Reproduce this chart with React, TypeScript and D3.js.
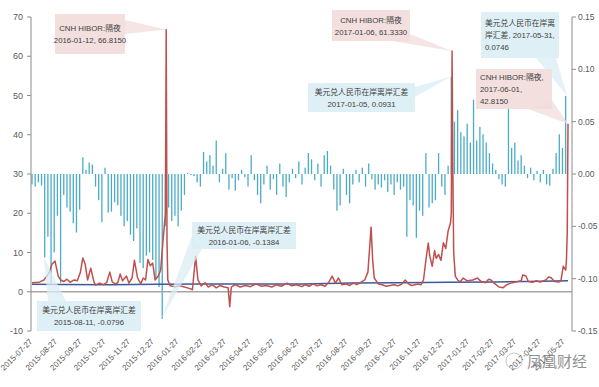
import React from "react";
import * as d3 from "d3";

const W = 599;
const H = 387;

// ---------- data ----------
const xTickLabels = [
  "2015-07-27", "2015-08-27", "2015-09-27", "2015-10-27", "2015-11-27", "2015-12-27",
  "2016-01-27", "2016-02-27", "2016-03-27", "2016-04-27", "2016-05-27", "2016-06-27",
  "2016-07-27", "2016-08-27", "2016-09-27", "2016-10-27", "2016-11-27", "2016-12-27",
  "2017-01-27", "2017-02-27", "2017-03-27", "2017-04-27", "2017-05-27",
];
const leftTicks = [-10, 0, 10, 20, 30, 40, 50, 60, 70];
const rightTicks = [-0.15, -0.1, -0.05, 0, 0.05, 0.1, 0.15];

// USD/CNY onshore-offshore spread (right axis), one bar every 4 days from start
const spreadStart = "2015-07-27";
const spreadStepDays = 4;
const spreadValues = [
  -0.01, -0.012, -0.008, -0.011, -0.0796, -0.06, -0.105, -0.075, -0.04, -0.104,
  -0.02, -0.032, -0.036, -0.047, -0.056, -0.034, 0.016, 0.004, 0.011, 0.009,
  -0.012, -0.025, -0.046, 0.006, -0.037, -0.036, -0.027, -0.03, -0.04, -0.05,
  -0.045, -0.058, -0.064, -0.052, -0.085, -0.09, -0.078, -0.075, -0.082, -0.1,
  -0.108, -0.1384, -0.05, -0.032, -0.045, -0.04, -0.05, -0.035, -0.02, 0.001,
  -0.001, -0.002, -0.008, -0.012, 0.021, 0.012, 0.018, 0.008, 0.032, -0.008,
  0.005, 0.02, -0.015, -0.004, -0.016, -0.006, 0.004, -0.003, -0.012, 0.018,
  -0.006, -0.02, -0.028, -0.01, 0.008, -0.015, -0.005, -0.02, 0.01, -0.012,
  -0.022, -0.008, 0.005, -0.004, 0.012, -0.01, 0.006, 0.02, 0.014, -0.006,
  0.01, -0.012, 0.018, 0.022, 0.008, -0.015, -0.035, -0.03, 0.005, -0.02,
  -0.028, -0.01, 0.004, -0.008, 0.006, -0.012, 0.01, -0.005, -0.015, -0.01,
  -0.013, -0.006, -0.017, -0.01, -0.02, -0.008, -0.015, -0.012, -0.06, -0.025,
  -0.03, -0.061, -0.035, -0.04, 0.02, -0.032, -0.028, -0.025, 0.02, -0.012,
  -0.02, 0.008, 0.0931, 0.05, 0.061, 0.04, 0.036, 0.048, 0.03, 0.071,
  0.032, 0.045, 0.038, 0.03, 0.02, 0.01, 0.004, -0.005, -0.01, -0.012,
  0.064, 0.025, 0.03, 0.013, 0.018, 0.008, -0.004, 0.006, -0.006, 0.003,
  -0.008, 0.004, -0.01, -0.011, 0.005, 0.02, 0.038, 0.025, 0.0746,
];

// CNH HIBOR overnight (left axis)
const hiborPoints: [string, number][] = [
  ["2015-07-27", 2.3], ["2015-08-03", 2.4], ["2015-08-06", 2.5], ["2015-08-11", 3.0],
  ["2015-08-14", 3.8], ["2015-08-18", 5.0], ["2015-08-21", 7.0], ["2015-08-25", 7.8],
  ["2015-08-29", 4.0], ["2015-09-01", 3.0], ["2015-09-05", 2.6], ["2015-09-09", 3.2],
  ["2015-09-13", 2.4], ["2015-09-18", 3.0], ["2015-09-22", 2.8], ["2015-09-26", 5.0],
  ["2015-09-29", 8.6], ["2015-10-02", 7.0], ["2015-10-05", 3.0], ["2015-10-09", 6.0],
  ["2015-10-13", 2.5], ["2015-10-15", 1.7], ["2015-10-20", 2.2], ["2015-10-25", 1.8],
  ["2015-10-29", 2.3], ["2015-11-02", 5.0], ["2015-11-05", 2.5], ["2015-11-09", 2.0],
  ["2015-11-12", 2.3], ["2015-11-15", 4.5], ["2015-11-18", 2.8], ["2015-11-23", 4.0],
  ["2015-11-26", 2.2], ["2015-11-30", 3.5], ["2015-12-03", 8.0], ["2015-12-07", 3.5],
  ["2015-12-11", 2.0], ["2015-12-14", 3.5], ["2015-12-17", 3.0], ["2015-12-20", 8.2],
  ["2015-12-23", 6.6], ["2015-12-26", 7.3], ["2015-12-29", 3.0], ["2016-01-02", 4.0],
  ["2016-01-05", 5.5], ["2016-01-08", 13.0], ["2016-01-11", 20.0], ["2016-01-12", 66.815],
  ["2016-01-13", 13.0], ["2016-01-14", 3.0], ["2016-01-17", 1.5], ["2016-01-23", 1.3],
  ["2016-01-29", 1.5], ["2016-02-04", 1.2], ["2016-02-11", 0.8], ["2016-02-14", 0.5],
  ["2016-02-18", 9.0], ["2016-02-21", 3.0], ["2016-02-25", 1.5], ["2016-03-01", 2.3],
  ["2016-03-05", 1.2], ["2016-03-10", 1.8], ["2016-03-15", 1.0], ["2016-03-20", 1.6],
  ["2016-03-25", 1.2], ["2016-03-30", 1.0], ["2016-04-01", -3.8], ["2016-04-03", 1.2],
  ["2016-04-08", 1.8], ["2016-04-14", 1.2], ["2016-04-21", 1.6], ["2016-04-27", 1.3],
  ["2016-05-04", 2.0], ["2016-05-11", 1.4], ["2016-05-17", 1.6], ["2016-05-24", 1.2],
  ["2016-05-30", 1.8], ["2016-06-05", 1.4], ["2016-06-12", 2.2], ["2016-06-18", 1.5],
  ["2016-06-24", 1.8], ["2016-07-01", 1.3], ["2016-07-05", 1.8], ["2016-07-10", 1.4],
  ["2016-07-15", 2.0], ["2016-07-20", 1.5], ["2016-07-25", 1.8], ["2016-07-30", 1.4],
  ["2016-08-04", 2.5], ["2016-08-08", 4.0], ["2016-08-12", 2.2], ["2016-08-16", 3.5],
  ["2016-08-20", 1.8], ["2016-08-25", 2.0], ["2016-08-30", 1.6], ["2016-09-04", 2.2],
  ["2016-09-08", 1.8], ["2016-09-13", 2.4], ["2016-09-18", 3.0], ["2016-09-22", 5.0],
  ["2016-09-26", 16.5], ["2016-09-28", 8.0], ["2016-09-30", 3.5], ["2016-10-05", 2.0],
  ["2016-10-10", 1.8], ["2016-10-15", 1.4], ["2016-10-20", 1.6], ["2016-10-25", 1.8],
  ["2016-10-30", 1.5], ["2016-11-04", 2.0], ["2016-11-08", 3.0], ["2016-11-12", 2.0],
  ["2016-11-16", 1.6], ["2016-11-20", 1.8], ["2016-11-24", 2.0], ["2016-11-28", 1.8],
  ["2016-12-01", 3.0], ["2016-12-04", 8.0], ["2016-12-07", 12.4], ["2016-12-09", 9.0],
  ["2016-12-12", 6.5], ["2016-12-15", 10.5], ["2016-12-17", 8.5], ["2016-12-20", 9.5],
  ["2016-12-23", 8.0], ["2016-12-26", 12.5], ["2016-12-29", 11.0], ["2017-01-01", 15.5],
  ["2017-01-04", 17.5], ["2017-01-05", 20.0], ["2017-01-06", 61.333], ["2017-01-07", 30.0],
  ["2017-01-08", 10.0], ["2017-01-10", 4.0], ["2017-01-13", 3.0], ["2017-01-16", 2.5],
  ["2017-01-20", 3.5], ["2017-01-25", 2.8], ["2017-02-01", 3.0], ["2017-02-07", 3.5],
  ["2017-02-11", 2.7], ["2017-02-17", 2.3], ["2017-02-21", 3.2], ["2017-02-24", 3.0],
  ["2017-02-28", 2.2], ["2017-03-06", 1.2], ["2017-03-11", 1.0], ["2017-03-16", 1.8],
  ["2017-03-21", 2.2], ["2017-03-27", 2.5], ["2017-04-03", 2.8], ["2017-04-05", 4.3],
  ["2017-04-09", 4.0], ["2017-04-12", 2.6], ["2017-04-17", 2.4], ["2017-04-22", 2.8],
  ["2017-04-27", 2.5], ["2017-05-04", 3.0], ["2017-05-08", 3.8], ["2017-05-11", 3.5],
  ["2017-05-15", 2.6], ["2017-05-20", 2.5], ["2017-05-23", 2.7], ["2017-05-26", 6.5],
  ["2017-05-29", 5.5], ["2017-05-30", 8.0], ["2017-05-31", 15.0], ["2017-06-01", 42.815],
];

// onshore overnight rate (left axis, dark blue line)
const onshorePoints: [string, number][] = [
  ["2015-07-27", 1.9], ["2015-09-01", 1.85], ["2015-11-01", 1.8], ["2016-01-01", 1.9],
  ["2016-03-01", 1.95], ["2016-05-01", 2.0], ["2016-07-01", 2.0], ["2016-09-01", 2.2],
  ["2016-11-01", 2.3], ["2017-01-01", 2.4], ["2017-03-01", 2.5], ["2017-05-01", 2.7],
  ["2017-06-01", 2.8],
];

// callouts
const calloutKinds = ["hibor", "hibor", "spread", "spread", "hibor", "spread", "spread"];
const calloutDates = ["2016-01-12", "2017-01-06", "2017-01-05", "2017-05-31", "2017-06-01", "2016-01-06", "2015-08-11"];
const calloutValues = [66.815, 61.333, 0.0931, 0.0746, 42.815, -0.1384, -0.0796];
const calloutTexts = [
  ["CNH HIBOR:隔夜", "2016-01-12, 66.8150"],
  ["CNH HIBOR:隔夜", "2017-01-06, 61.3330"],
  ["美元兑人民币在岸离岸汇差", "2017-01-05, 0.0931"],
  ["美元兑人民币在岸离", "岸汇差, 2017-05-31,", "0.0746"],
  ["CNH HIBOR:隔夜,", "2017-06-01,", "42.8150"],
  ["美元兑人民币在岸离岸汇差", "2016-01-06, -0.1384"],
  ["美元兑人民币在岸离岸汇差", "2015-08-11, -0.0796"],
];

// ---------- layout (not data) ----------
const calloutBoxes = [
  { x: 55, y: 14, w: 70, h: 40, align: "middle", base: [[125, 20], [125, 34]] },
  { x: 332, y: 10, w: 78, h: 31, align: "middle", base: [[392, 41], [410, 34]] },
  { x: 308, y: 83, w: 107, h: 29, align: "middle", base: [[415, 87], [415, 97]] },
  { x: 481, y: 12, w: 78, h: 46, align: "start", base: [[536, 58], [556, 58]] },
  { x: 476, y: 69, w: 76, h: 40, align: "start", base: [[528, 109], [552, 100]] },
  { x: 192, y: 222, w: 104, h: 27, align: "middle", base: [[192, 236], [202, 249]] },
  { x: 37, y: 301, w: 104, h: 30, align: "middle", base: [[48, 301], [66, 301]] },
];

const parse = d3.timeParse("%Y-%m-%d");

export default function App() {
  const x = d3
    .scaleTime()
    .domain([parse("2015-07-27")!, parse("2017-06-06")!])
    .range([32, 572]);
  const yL = d3.scaleLinear().domain([-10, 70]).range([331, 17]);
  const yR = d3.scaleLinear().domain([-0.15, 0.15]).range([331, 17]);

  const start = parse(spreadStart)!;
  const bars = spreadValues.map((v, i) => ({ d: d3.timeDay.offset(start, i * spreadStepDays), v }));

  const line = d3
    .line<[string, number]>()
    .x((p) => x(parse(p[0])!))
    .y((p) => yL(p[1]));

  const fontNum = "'Liberation Sans', Arial, 'Noto Sans CJK SC', sans-serif";
  const axisColor = "#8c8c8c";
  const labelColor = "#595959";

  return (
    <svg
      width={W}
      height={H}
      style={{ position: "absolute", left: 0, top: 0, background: "#fff" }}
      fontFamily={fontNum}
    >
      <rect x={0} y={0} width={W} height={H} fill="#fff" />

      {/* spread bars */}
      <g fill="#4bacc6">
        {bars.map((b, i) => {
          const y0 = yR(0);
          const y1 = yR(b.v);
          return (
            <rect
              key={i}
              x={x(b.d) - 0.65}
              width={1.3}
              y={Math.min(y0, y1)}
              height={Math.max(0.5, Math.abs(y1 - y0))}
            />
          );
        })}
      </g>

      {/* zero line of left axis */}
      <line x1={31} x2={572} y1={yL(0)} y2={yL(0)} stroke="#a6a6a6" strokeWidth={1.5} />

      {/* onshore rate line */}
      <path d={line(onshorePoints) || ""} fill="none" stroke="#3b5b9a" strokeWidth={1.5} />
      {/* HIBOR line */}
      <path d={line(hiborPoints) || ""} fill="none" stroke="#c0504d" strokeWidth={1.5} strokeLinejoin="round" />

      {/* left axis */}
      <line x1={31} x2={31} y1={yL(-10)} y2={yL(70)} stroke={axisColor} strokeWidth={1} />
      {leftTicks.map((t) => (
        <g key={t}>
          <line x1={27} x2={31} y1={yL(t)} y2={yL(t)} stroke={axisColor} />
          <text x={23} y={yL(t) + 3} textAnchor="end" fontSize={9} fill={labelColor}>
            {t}
          </text>
        </g>
      ))}

      {/* right axis */}
      <line x1={572} x2={572} y1={yR(-0.15)} y2={yR(0.15)} stroke={axisColor} strokeWidth={1} />
      {rightTicks.map((t) => (
        <g key={t}>
          <line x1={572} x2={576} y1={yR(t)} y2={yR(t)} stroke={axisColor} />
          <text x={578} y={yR(t) + 3} textAnchor="start" fontSize={8.5} fill={labelColor}>
            {d3.format(".2f")(t).replace("−", "-")}
          </text>
        </g>
      ))}

      {/* x labels */}
      {xTickLabels.map((s) => {
        const px = x(parse(s)!);
        return (
          <text
            key={s}
            transform={`translate(${px + 1},${342}) rotate(-45)`}
            textAnchor="end"
            fontSize={8}
            fill={labelColor}
          >
            {s}
          </text>
        );
      })}

      {/* callouts */}
      {calloutBoxes.map((b, i) => {
        const isH = calloutKinds[i] === "hibor";
        const fill = isH ? "#f2dcdb" : "#dbeef4";
        const px = x(parse(calloutDates[i])!);
        const py = isH ? yL(calloutValues[i]) : yR(calloutValues[i]);
        const lines = calloutTexts[i];
        const lh = 12;
        const total = lh * lines.length;
        const ty0 = b.y + (b.h - total) / 2 + lh / 2 + 3;
        const tx = b.align === "middle" ? b.x + b.w / 2 : b.x + 4;
        return (
          <g key={i}>
            <polygon
              points={`${b.base[0][0]},${b.base[0][1]} ${b.base[1][0]},${b.base[1][1]} ${px},${py}`}
              fill={fill}
              opacity={0.75}
            />
            <rect x={b.x} y={b.y} width={b.w} height={b.h} fill={fill} opacity={0.92} />
            {lines.map((l, k) => (
              <text
                key={k}
                x={tx}
                y={ty0 + k * lh}
                textAnchor={b.align}
                fontSize={7.8}
                fill="#404040"
              >
                {l}
              </text>
            ))}
          </g>
        );
      })}

      {/* watermark */}
      <g opacity={0.8}>
        <circle cx={514} cy={361} r={8} fill="none" stroke="#bbb" strokeWidth={1} />
        <text x={527} y={367} fontSize={15} fill="#777" fontFamily="'Noto Sans CJK SC', sans-serif">
          凤凰财经
        </text>
      </g>
    </svg>
  );
}
